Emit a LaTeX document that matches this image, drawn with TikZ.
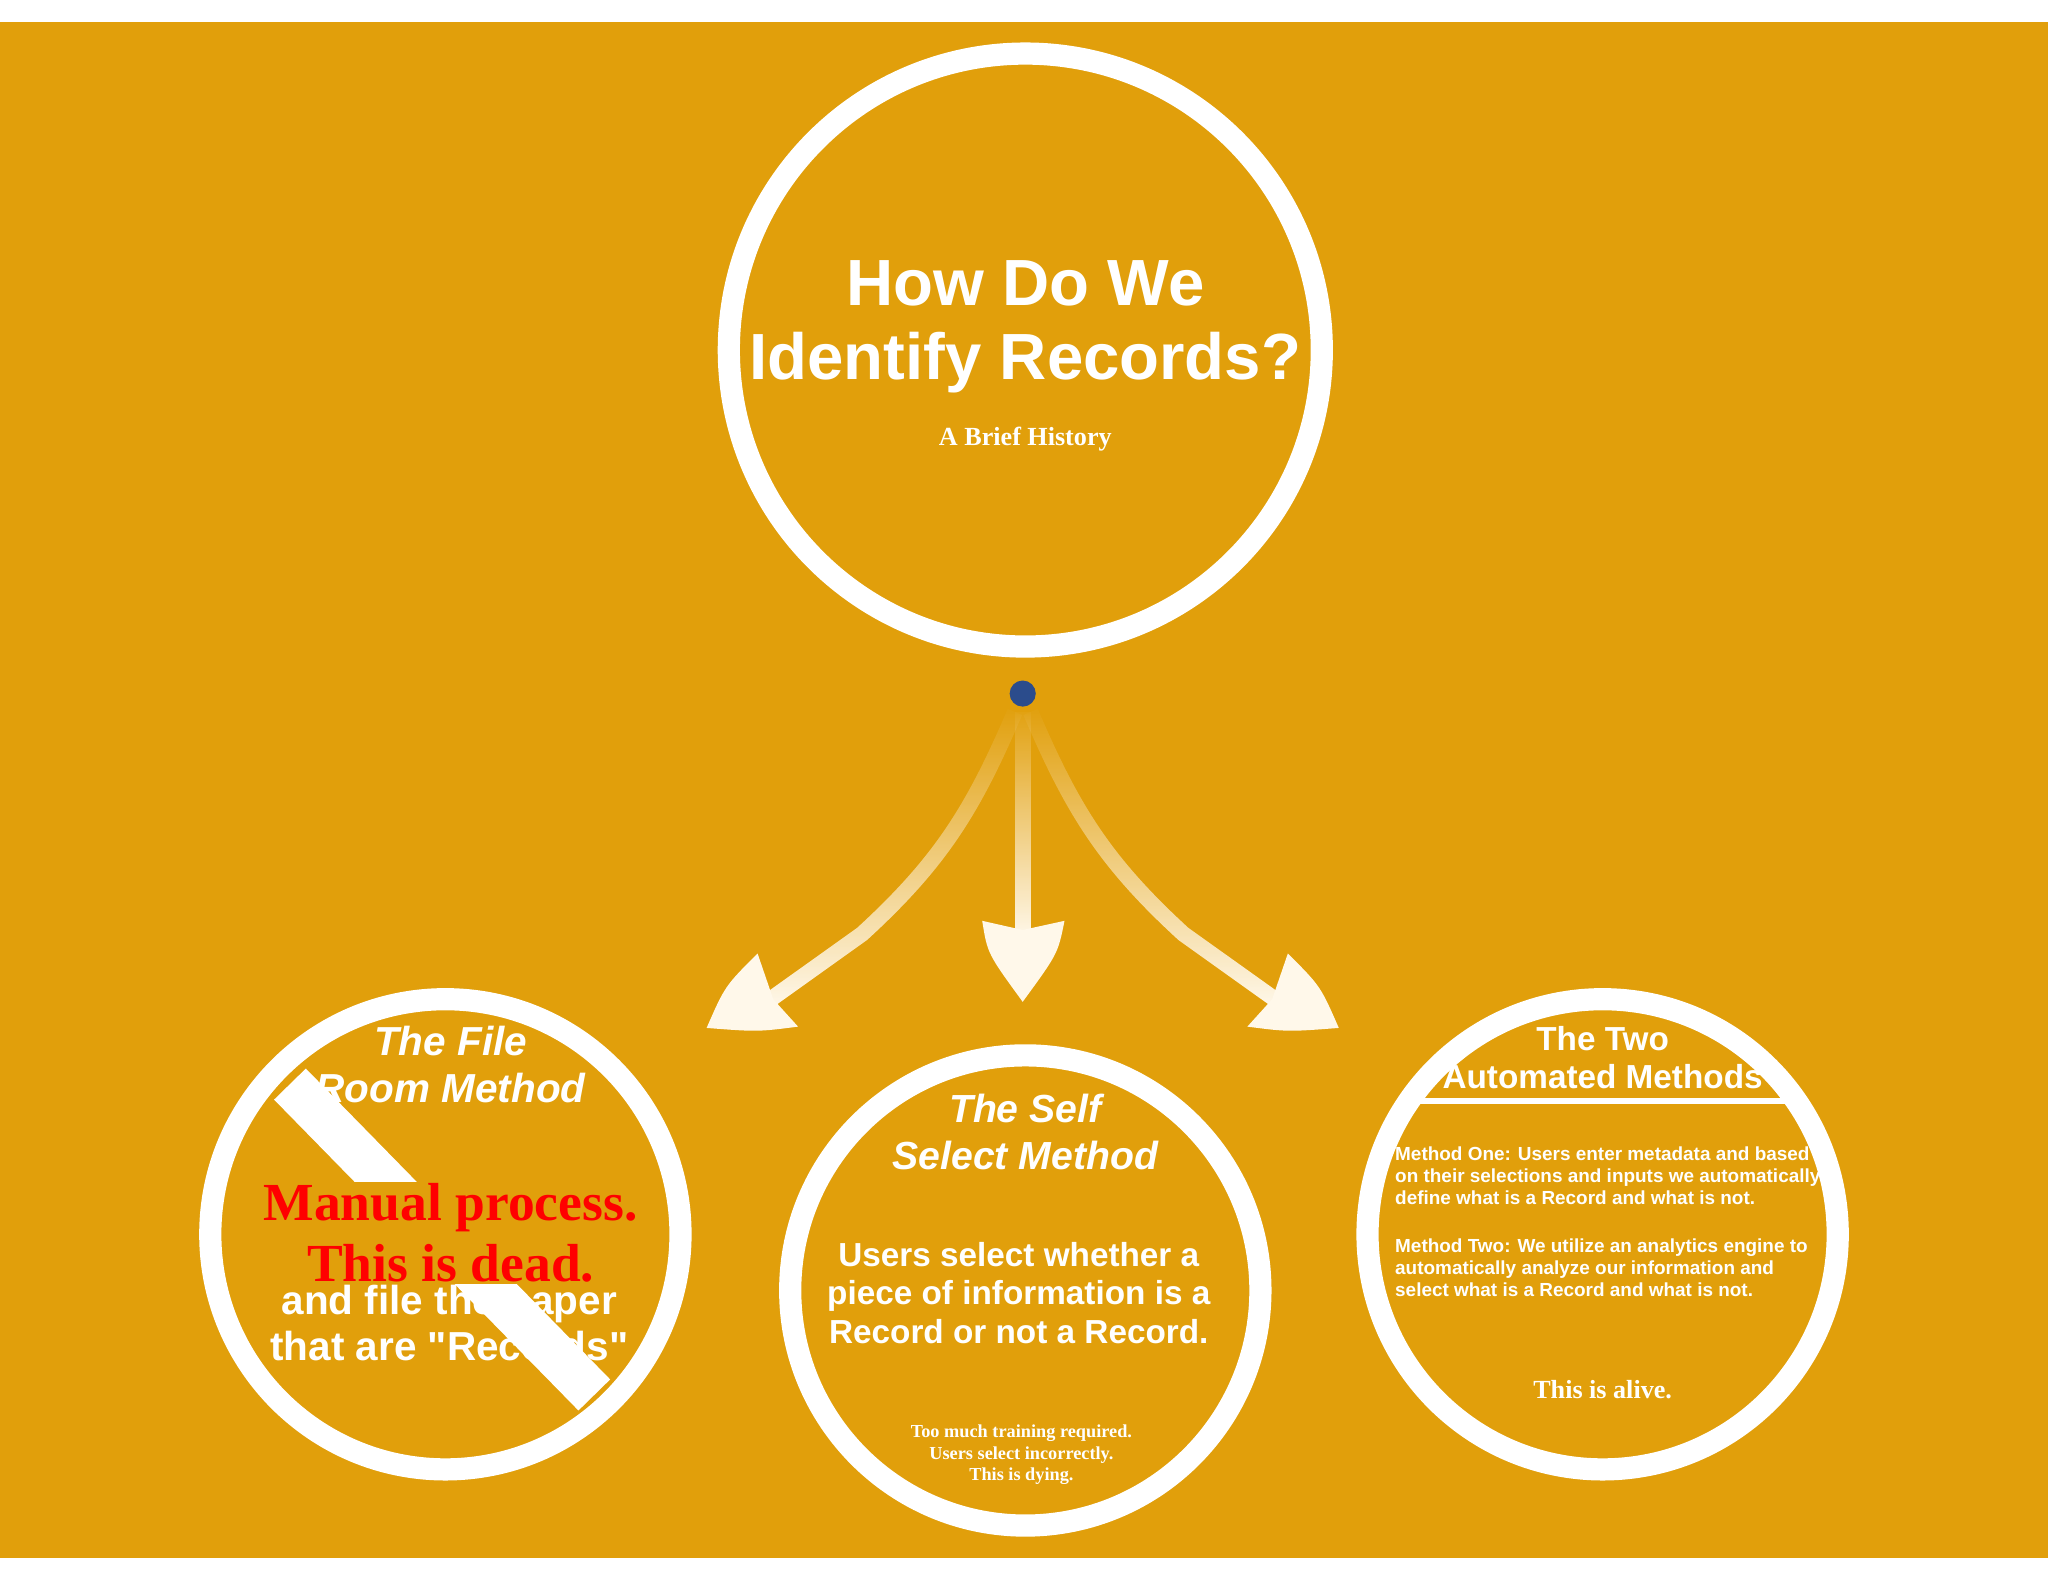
\documentclass[tikz,border=0pt]{standalone}
\usepackage{fontspec}
\setmainfont{Liberation Serif}
\setsansfont{Liberation Sans}
\newfontfamily\plainsans{Liberation Sans}
\usetikzlibrary{fadings}
\definecolor{bg}{HTML}{E19F0B}
\definecolor{cream}{HTML}{FFF8EA}
\definecolor{dotblue}{HTML}{2B4C8C}
\tikzset{
  ring/.style={draw=white,line width=17pt},
  shaft/.style={draw=cream,line width=12pt,path fading=north},
  head/.style={fill=cream,draw=none},
  ttl/.style={text=white,font=\sffamily\bfseries,align=center,inner sep=0pt},
  sr/.style={text=white,font=\rmfamily\bfseries,align=center,inner sep=0pt},
}
\begin{document}
\begin{tikzpicture}[x=1pt,y=-1pt]
\useasboundingbox (0,0) rectangle (1568,1211);
\fill[bg] (0,17) rectangle (1568,1193);
% circles
\draw[ring] (785,268) circle (227);
\draw[ring] (341,945) circle (180);
\draw[ring] (785,988) circle (180);
\draw[ring] (1227,945) circle (180);
% top texts
\node[ttl,font=\sffamily\bfseries\fontsize{50}{57}\selectfont] (title) at (785,250) {How Do We\\Identify Records?};
\node[sr,font=\rmfamily\bfseries\fontsize{20}{24}\selectfont] (sub) at (785,336) {A Brief History};
% dot
\node[circle,fill=dotblue,minimum size=20pt,inner sep=0pt] (dot) at (783,531) {};
% arrows
\coordinate (ls) at (777,545);
\coordinate (ms) at (783,545);
\coordinate (rs) at (789,545);
\draw[shaft] (ls) .. controls (745,620) and (720,660) .. (660,715) -- (590,765);
\draw[shaft] (ms) -- (783,712);
\draw[shaft] (rs) .. controls (821,620) and (846,660) .. (906,715) -- (976,765);
\fill[head] (752,705) -- (783,712) -- (815,705) .. controls (810,730) .. (783,767) .. controls (756,730) .. cycle;
\fill[head] (580,730) -- (592,765) -- (611,786) .. controls (580,790) .. (541,787) .. controls (555,755) .. cycle;
\fill[head] (986,730) -- (974,765) -- (955,786) .. controls (986,790) .. (1025,787) .. controls (1011,755) .. cycle;
% left circle
\node[ttl,font=\sffamily\bfseries\itshape\fontsize{31}{36}\selectfont] (lt) at (345,815) {The File\\Room Method};
\node[ttl,font=\plainsans\bfseries\fontsize{31}{35}\selectfont] (lb) at (344,1013) {and file the paper\\that are "Records"};
\draw[white,line width=34pt] (222,830) -- (455,1068);
\node[sr,text=red,fill=bg,inner ysep=1pt,font=\rmfamily\bfseries\fontsize{41}{47}\selectfont] (lr) at (345,944) {Manual process.\\This is dead.};
% middle circle
\node[ttl,font=\sffamily\bfseries\itshape\fontsize{30}{36}\selectfont] (mt) at (785,867) {The Self\\Select Method};
\node[ttl,font=\sffamily\bfseries\fontsize{25.5}{29.5}\selectfont] (mb) at (780,990) {Users select whether a\\piece of information is a\\Record or not a Record.};
\node[sr,font=\rmfamily\bfseries\fontsize{14}{16.5}\selectfont] (ms2) at (782,1114) {Too much training required.\\Users select incorrectly.\\This is dying.};
% right circle
\node[ttl,font=\sffamily\bfseries\fontsize{25.5}{29}\selectfont] (rt) at (1227,810) {The Two\\Automated Methods};
\draw[white,line width=4pt] (1082,843) -- (1372,843);
\node[ttl,align=left,anchor=north west,font=\sffamily\bfseries\fontsize{14.5}{16.8}\selectfont] (r1) at (1068,878) {Method One: Users enter metadata and based\\on their selections and inputs we automatically\\define what is a Record and what is not.};
\node[ttl,align=left,anchor=north west,font=\sffamily\bfseries\fontsize{14.5}{16.8}\selectfont] (r2) at (1068,948) {Method Two: We utilize an analytics engine to\\automatically analyze our information and\\select what is a Record and what is not.};
\node[sr,font=\rmfamily\bfseries\fontsize{20}{24}\selectfont] (ra) at (1227,1064) {This is alive.};
\end{tikzpicture}
\end{document}
